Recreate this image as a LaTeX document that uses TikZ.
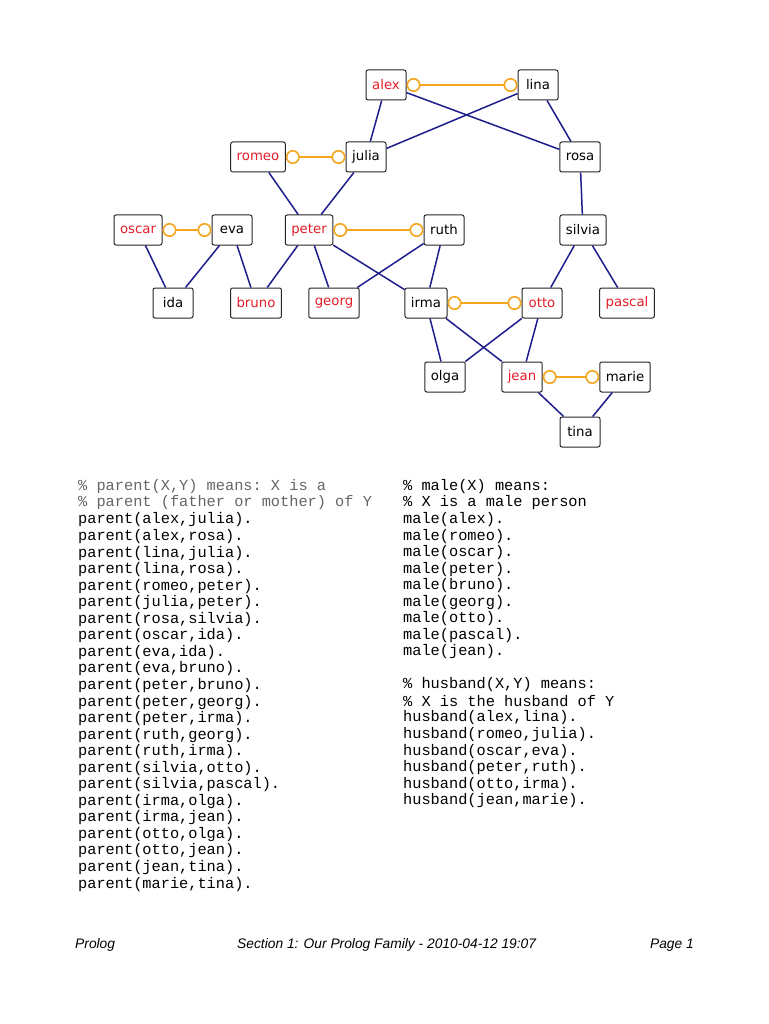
\documentclass[tikz,border=0pt]{standalone}
\usepackage{fontspec}
\setmainfont{DejaVu Sans}
\setmonofont{Liberation Mono}
\newfontfamily\footfont{Liberation Sans}
\usetikzlibrary{arrows.meta}
\definecolor{linknavy}{RGB}{30,30,140}
\definecolor{marryorange}{RGB}{245,165,30}
\definecolor{malered}{RGB}{228,30,40}

\begin{document}
\begin{tikzpicture}[x=1pt,y=-1pt,
  person/.style={draw=black!85, line width=1pt, rounded corners=2pt, minimum height=30pt,
    minimum width=40pt, inner xsep=6pt, font=\fontsize{13.3}{15}\selectfont},
  male/.style={person, text=malered},
  female/.style={person},
  child/.style={draw=linknavy, line width=1.5pt},
  marry/.style={draw=marryorange, line width=1.6pt,
    {Circle[open,length=14pt,width=14pt]}-{Circle[open,length=14pt,width=14pt]}},
  code/.style={anchor=west, inner sep=0pt, font=\ttfamily\fontsize{15.3}{16.5}\selectfont},
  note/.style={code, text=black!60},
  foot/.style={inner sep=0pt, font=\footfont\itshape\fontsize{13.8}{16}\selectfont}
]
\useasboundingbox[fill=white] (0,0) rectangle (768,1024);

% ===================== Family tree =====================
    % Generation 1
    \node[male]   (alex)   at (386,85)  {alex};
    \node[female] (lina)   at (538,85)  {lina};

    % Generation 2
    \node[male]   (romeo)  at (258,157) {romeo};
    \node[female] (julia)  at (366,157) {julia};
    \node[female] (rosa)   at (580,157) {rosa};

    % Generation 3
    \node[male]   (oscar)  at (138,230) {oscar};
    \node[female] (eva)    at (232,230) {eva};
    \node[male]   (peter)  at (309,230) {peter};
    \node[female] (ruth)   at (444,230) {ruth};
    \node[female] (silvia) at (583,230) {silvia};

    % Generation 4
    \node[female] (ida)    at (173,303) {ida};
    \node[male]   (bruno)  at (256,303) {bruno};
    \node[male]   (georg)  at (334,303) {georg};
    \node[female] (irma)   at (426,303) {irma};
    \node[male]   (otto)   at (542,303) {otto};
    \node[male]   (pascal) at (627,303) {pascal};

    % Generation 5
    \node[female] (olga)   at (445,377) {olga};
    \node[male]   (jean)   at (522,377) {jean};
    \node[female] (marie)  at (625,377) {marie};
    \node[female] (tina)   at (580,432) {tina};

    % Parent links
    \draw[child] (alex)--(julia);   \draw[child] (alex)--(rosa);
    \draw[child] (lina)--(julia);   \draw[child] (lina)--(rosa);
    \draw[child] (romeo)--(peter);  \draw[child] (julia)--(peter);
    \draw[child] (rosa)--(silvia);
    \draw[child] (oscar)--(ida);    \draw[child] (eva)--(ida);
    \draw[child] (eva)--(bruno);
    \draw[child] (peter)--(bruno);  \draw[child] (peter)--(georg);
    \draw[child] (peter)--(irma);
    \draw[child] (ruth)--(georg);   \draw[child] (ruth)--(irma);
    \draw[child] (silvia)--(otto);  \draw[child] (silvia)--(pascal);
    \draw[child] (irma)--(olga);    \draw[child] (irma)--(jean);
    \draw[child] (otto)--(olga);    \draw[child] (otto)--(jean);
    \draw[child] (jean)--(tina);    \draw[child] (marie)--(tina);

    % Marriages
    \draw[marry] (alex)--(lina);
    \draw[marry] (romeo)--(julia);
    \draw[marry] (oscar)--(eva);
    \draw[marry] (peter)--(ruth);
    \draw[marry] (irma)--(otto);
    \draw[marry] (jean)--(marie);

% ===================== Prolog facts =====================
    % parent/2
    \node[note] (parhead1) at (78,487) {\% parent(X,Y) means: X is a};
    \node[note] (parhead2) at (78,503) {\% parent (father or mother) of Y};
    \foreach \t [count=\i] in {{parent(alex,julia).},{parent(alex,rosa).},
      {parent(lina,julia).},{parent(lina,rosa).},{parent(romeo,peter).},
      {parent(julia,peter).},{parent(rosa,silvia).},{parent(oscar,ida).},
      {parent(eva,ida).},{parent(eva,bruno).},{parent(peter,bruno).},
      {parent(peter,georg).},{parent(peter,irma).},{parent(ruth,georg).},
      {parent(ruth,irma).},{parent(silvia,otto).},{parent(silvia,pascal).},
      {parent(irma,olga).},{parent(irma,jean).},{parent(otto,olga).},
      {parent(otto,jean).},{parent(jean,tina).},{parent(marie,tina).}}
      \node[code] (par\i) at (78,{520+16.55*(\i-1)}) {\t};

    % male/1
    \node[code] (malehead1) at (403,487) {\% male(X) means:};
    \node[code] (malehead2) at (403,503) {\% X is a male person};
    \foreach \t [count=\i] in {{male(alex).},{male(romeo).},{male(oscar).},
      {male(peter).},{male(bruno).},{male(georg).},{male(otto).},
      {male(pascal).},{male(jean).}}
      \node[code] (male\i) at (403,{520+16.5*(\i-1)}) {\t};

    % husband/2
    \node[code] (hushead1) at (403,685) {\% husband(X,Y) means:};
    \node[code] (hushead2) at (403,701) {\% X is the husband of Y};
    \foreach \t [count=\i] in {{husband(alex,lina).},{husband(romeo,julia).},
      {husband(oscar,eva).},{husband(peter,ruth).},{husband(otto,irma).},
      {husband(jean,marie).}}
      \node[code] (hus\i) at (403,{718+16.6*(\i-1)}) {\t};

% ===================== Footer =====================
    \node[foot, anchor=west] (footl) at (75,945)  {Prolog};
    \node[foot, anchor=west] (footc) at (237,945) {Section 1: Our Prolog Family - 2010-04-12 19:07};
    \node[foot, anchor=east] (footr) at (694,945) {Page 1};

\end{tikzpicture}
\end{document}
